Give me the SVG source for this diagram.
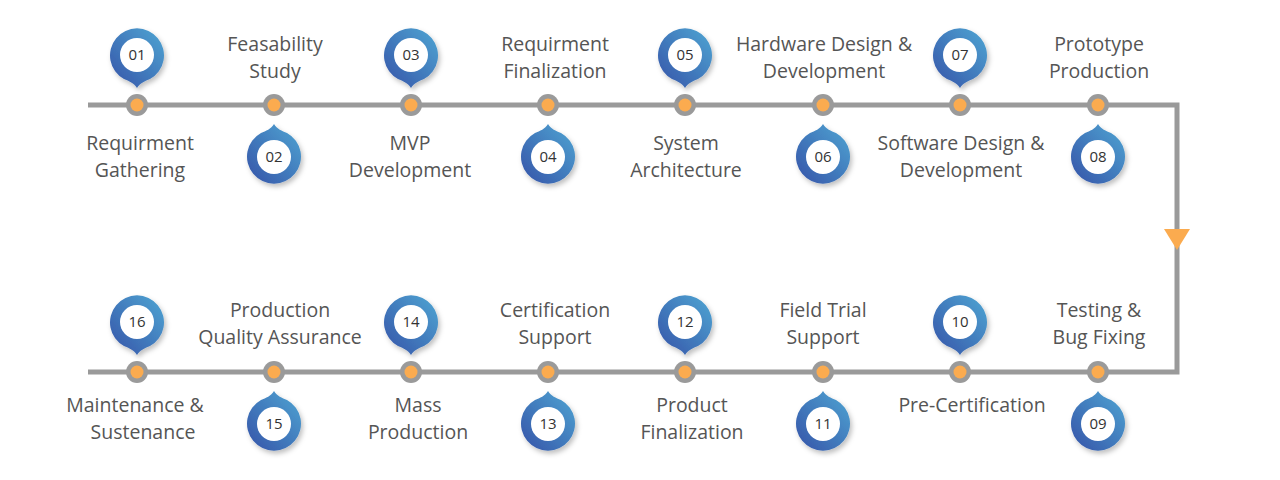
<svg xmlns="http://www.w3.org/2000/svg" xmlns:xlink="http://www.w3.org/1999/xlink" width="1280" height="480" viewBox="0 0 1280 480">
<defs>
<linearGradient id="g" x1="0" y1="1" x2="1" y2="0"><stop offset="0" stop-color="#3553a8"/><stop offset="1" stop-color="#4fa6d3"/></linearGradient>
<filter id="sh" x="-30%" y="-30%" width="160%" height="160%"><feDropShadow dx="2" dy="3" stdDeviation="2.5" flood-color="#000" flood-opacity="0.25"/></filter>
<path id="pd" d="M0,33 C-3,28 -8,26 -13,24 A27,27 0 1 1 13,24 C8,26 3,28 0,33 Z"/>
<path id="pu" d="M0,-33 C-3,-28 -8,-26 -13,-24 A27,27 0 1 0 13,-24 C8,-26 3,-28 0,-33 Z"/>
</defs>
<style>
.pin{fill:url(#g);filter:url(#sh)}
.in{fill:#fff}
.n{font-family:"Open Sans",sans-serif;font-size:15px;fill:#333;text-anchor:middle}
.t{font-family:"Open Sans",sans-serif;font-size:19.5px;fill:#555;text-anchor:middle}
.dg{fill:#9a9a9a}.do{fill:#fbab4f}
</style>
<g id="connectors">
<path d="M88,105 H1177 V372 H88" fill="none" stroke="#9a9a9a" stroke-width="5"/>
<path d="M1164,229 H1190 L1177,250 Z" fill="#fbab4f"/>
</g>
<g id="dots">
<g class="dg"><circle cx="137" cy="105" r="11"/><circle cx="274" cy="105" r="11"/><circle cx="411" cy="105" r="11"/><circle cx="548" cy="105" r="11"/><circle cx="685" cy="105" r="11"/><circle cx="823" cy="105" r="11"/><circle cx="960" cy="105" r="11"/><circle cx="1098" cy="105" r="11"/>
<circle cx="137" cy="372" r="11"/><circle cx="274" cy="372" r="11"/><circle cx="411" cy="372" r="11"/><circle cx="548" cy="372" r="11"/><circle cx="685" cy="372" r="11"/><circle cx="823" cy="372" r="11"/><circle cx="960" cy="372" r="11"/><circle cx="1098" cy="372" r="11"/></g>
<g class="do"><circle cx="137" cy="105" r="6.5"/><circle cx="274" cy="105" r="6.5"/><circle cx="411" cy="105" r="6.5"/><circle cx="548" cy="105" r="6.5"/><circle cx="685" cy="105" r="6.5"/><circle cx="823" cy="105" r="6.5"/><circle cx="960" cy="105" r="6.5"/><circle cx="1098" cy="105" r="6.5"/>
<circle cx="137" cy="372" r="6.5"/><circle cx="274" cy="372" r="6.5"/><circle cx="411" cy="372" r="6.5"/><circle cx="548" cy="372" r="6.5"/><circle cx="685" cy="372" r="6.5"/><circle cx="823" cy="372" r="6.5"/><circle cx="960" cy="372" r="6.5"/><circle cx="1098" cy="372" r="6.5"/></g>
</g>
<g id="n01"><use href="#pd" class="pin" x="137" y="55"/><circle class="in" cx="137" cy="55" r="17"/><text class="n" x="137" y="60">01</text><text class="t" x="140" y="150">Requirment</text><text class="t" x="140" y="177">Gathering</text></g>
<g id="n02"><use href="#pu" class="pin" x="274" y="157"/><circle class="in" cx="274" cy="157" r="17"/><text class="n" x="274" y="162">02</text><text class="t" x="275" y="51">Feasability</text><text class="t" x="275" y="78">Study</text></g>
<g id="n03"><use href="#pd" class="pin" x="411" y="55"/><circle class="in" cx="411" cy="55" r="17"/><text class="n" x="411" y="60">03</text><text class="t" x="410" y="150">MVP</text><text class="t" x="410" y="177">Development</text></g>
<g id="n04"><use href="#pu" class="pin" x="548" y="157"/><circle class="in" cx="548" cy="157" r="17"/><text class="n" x="548" y="162">04</text><text class="t" x="555" y="51">Requirment</text><text class="t" x="555" y="78">Finalization</text></g>
<g id="n05"><use href="#pd" class="pin" x="685" y="55"/><circle class="in" cx="685" cy="55" r="17"/><text class="n" x="685" y="60">05</text><text class="t" x="686" y="150">System</text><text class="t" x="686" y="177">Architecture</text></g>
<g id="n06"><use href="#pu" class="pin" x="823" y="157"/><circle class="in" cx="823" cy="157" r="17"/><text class="n" x="823" y="162">06</text><text class="t" x="824" y="51">Hardware Design &amp;</text><text class="t" x="824" y="78">Development</text></g>
<g id="n07"><use href="#pd" class="pin" x="960" y="55"/><circle class="in" cx="960" cy="55" r="17"/><text class="n" x="960" y="60">07</text><text class="t" x="961" y="150">Software Design &amp;</text><text class="t" x="961" y="177">Development</text></g>
<g id="n08"><use href="#pu" class="pin" x="1098" y="157"/><circle class="in" cx="1098" cy="157" r="17"/><text class="n" x="1098" y="162">08</text><text class="t" x="1099" y="51">Prototype</text><text class="t" x="1099" y="78">Production</text></g>
<g id="n09"><use href="#pu" class="pin" x="1098" y="424"/><circle class="in" cx="1098" cy="424" r="17"/><text class="n" x="1098" y="429">09</text><text class="t" x="1099" y="317">Testing &amp;</text><text class="t" x="1099" y="344">Bug Fixing</text></g>
<g id="n10"><use href="#pd" class="pin" x="960" y="322"/><circle class="in" cx="960" cy="322" r="17"/><text class="n" x="960" y="327">10</text><text class="t" x="972" y="412">Pre-Certification</text></g>
<g id="n11"><use href="#pu" class="pin" x="823" y="424"/><circle class="in" cx="823" cy="424" r="17"/><text class="n" x="823" y="429">11</text><text class="t" x="823" y="317">Field Trial</text><text class="t" x="823" y="344">Support</text></g>
<g id="n12"><use href="#pd" class="pin" x="685" y="322"/><circle class="in" cx="685" cy="322" r="17"/><text class="n" x="685" y="327">12</text><text class="t" x="692" y="412">Product</text><text class="t" x="692" y="439">Finalization</text></g>
<g id="n13"><use href="#pu" class="pin" x="548" y="424"/><circle class="in" cx="548" cy="424" r="17"/><text class="n" x="548" y="429">13</text><text class="t" x="555" y="317">Certification</text><text class="t" x="555" y="344">Support</text></g>
<g id="n14"><use href="#pd" class="pin" x="411" y="322"/><circle class="in" cx="411" cy="322" r="17"/><text class="n" x="411" y="327">14</text><text class="t" x="418" y="412">Mass</text><text class="t" x="418" y="439">Production</text></g>
<g id="n15"><use href="#pu" class="pin" x="274" y="424"/><circle class="in" cx="274" cy="424" r="17"/><text class="n" x="274" y="429">15</text><text class="t" x="280" y="317">Production</text><text class="t" x="280" y="344">Quality Assurance</text></g>
<g id="n16"><use href="#pd" class="pin" x="137" y="322"/><circle class="in" cx="137" cy="322" r="17"/><text class="n" x="137" y="327">16</text><text class="t" x="135" y="412">Maintenance &amp;</text><text class="t" x="143" y="439">Sustenance</text></g>
</svg>
